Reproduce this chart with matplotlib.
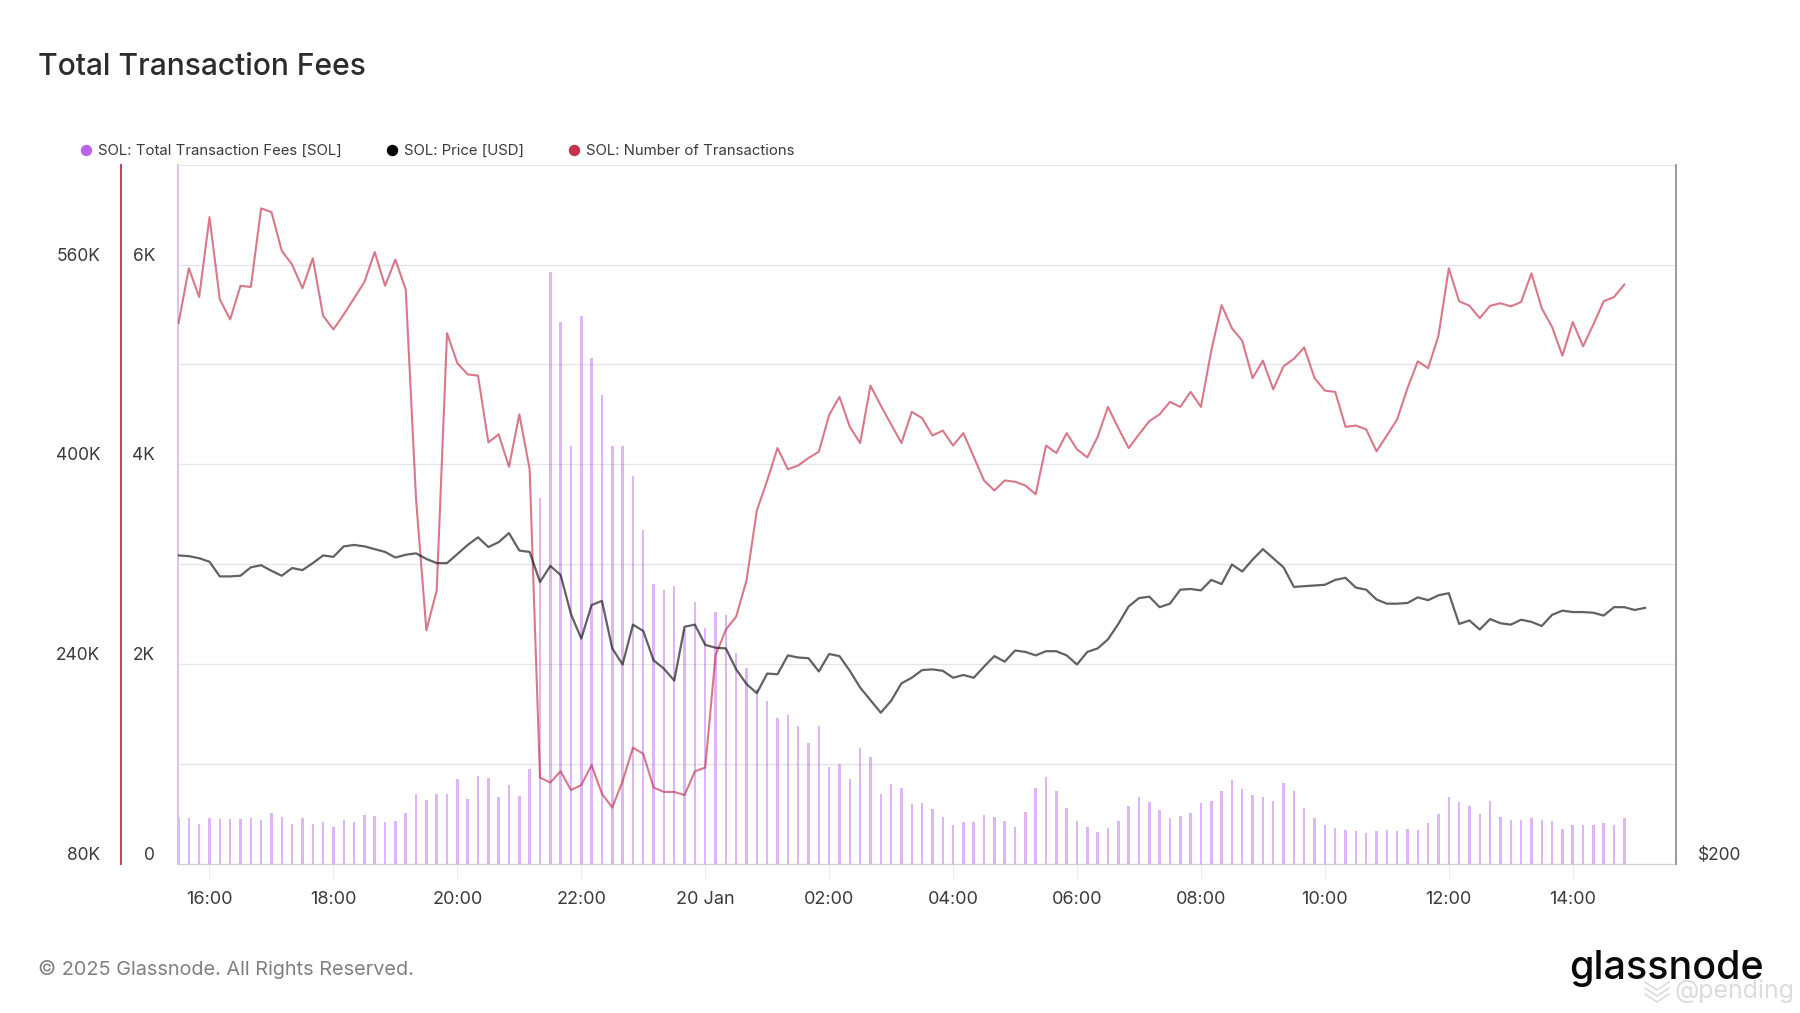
import pandas as pd
import matplotlib
matplotlib.use('Agg')
import matplotlib.pyplot as plt
from matplotlib.lines import Line2D

plt.rcParams['font.family'] = ['Inter', 'DejaVu Sans']

# total fees per 10 min, thousand SOL
fees = [
    .455, .46, .40, .46, .445, .445, .45, .46, .435, .51,
    .47, .40, .455, .40, .42, .365, .44, .42, .49, .48,
    .42, .43, .51, .70, .64, .70, .70, .85, .645, .88,
    .855, .67, .79, .68, .945, 3.66, 5.93, 5.42, 4.18, 5.48,
    5.06, 4.69, 4.18, 4.18, 3.88, 3.34, 2.80, 2.74, 2.78, 2.35,
    2.62, 2.36, 2.52, 2.49, 2.11, 1.96, 1.75, 1.63, 1.46, 1.49,
    1.38, 1.21, 1.38, .97, 1.0, .85, 1.16, 1.07, .70, .80,
    .76, .60, .61, .55, .47, .39, .42, .42, .49, .47,
    .43, .37, .52, .76, .87, .73, .56, .43, .37, .32,
    .36, .43, .58, .67, .62, .54, .46, .48, .51, .61,
    .63, .73, .84, .75, .69, .67, .63, .81, .73, .56,
    .46, .39, .36, .34, .33, .31, .33, .34, .33, .35,
    .34, .41, .50, .67, .62, .58, .50, .63, .47, .44,
    .44, .46, .44, .43, .35, .39, .39, .39, .41, .39,
    .46,
]

# number of transactions, thousands
transactions = [
    513, 557, 534, 598, 532, 516, 543, 542, 605, 602,
    571, 560, 541, 565, 519, 508, 520, 533, 546, 570,
    543, 564, 540, 372, 267, 299, 505, 481, 472, 471,
    417.5, 424, 398, 440, 396, 149, 145, 154, 139, 143,
    159, 136, 125, 146, 173, 168, 141, 137.5, 137.5, 135,
    154, 157, 247, 267.5, 278, 307, 363, 387, 413, 396,
    399, 405, 410, 439.5, 454, 430, 417, 463, 447, 432,
    417, 442, 437, 423, 427, 415, 425, 406, 387, 379,
    387, 386, 383, 376, 415, 409, 425, 412, 405.5, 422,
    446, 429, 413, 424, 434.5, 440, 450, 446, 458, 446,
    491, 527.5, 509, 499, 469, 483, 460, 478.5, 484.5, 493.6,
    469, 459, 458, 430, 431, 428, 410.4, 423, 436, 461,
    482.5, 477, 503, 557, 530.6, 527, 517, 527, 529, 526.5,
    530, 553, 525, 510, 487, 514, 494.5, 512, 530.6, 534,
    544,
]

# SOL price, USD
price = [
    244.1, 244.0, 243.7, 243.2, 241.1, 241.1, 241.2, 242.4, 242.7, 241.9,
    241.2, 242.3, 242.0, 243.0, 244.1, 243.9, 245.4, 245.6, 245.4, 245.0,
    244.6, 243.8, 244.2, 244.4, 243.6, 243.0, 243.0, 244.3, 245.6, 246.7,
    245.3, 246.0, 247.3, 244.8, 244.6, 240.3, 242.6, 241.3, 235.7, 232.2,
    237.0, 237.6, 230.8, 228.5, 234.2, 233.3, 229.1, 227.9, 226.2, 233.9,
    234.2, 231.3, 230.9, 230.8, 227.8, 225.7, 224.4, 227.2, 227.1, 229.8,
    229.5, 229.4, 227.5, 230.0, 229.7, 227.6, 225.2, 223.4, 221.6, 223.3,
    225.8, 226.6, 227.7, 227.8, 227.6, 226.6, 227.0, 226.6, 228.2, 229.7,
    228.9, 230.5, 230.3, 229.8, 230.4, 230.4, 229.8, 228.5, 230.3, 230.8,
    232.1, 234.3, 236.8, 238.0, 238.2, 236.7, 237.2, 239.2, 239.3, 239.1,
    240.6, 240.0, 242.8, 241.8, 243.5, 245.0, 243.7, 242.4, 239.6, 239.7,
    239.8, 239.9, 240.6, 240.9, 239.5, 239.2, 237.8, 237.2, 237.2, 237.3,
    238.1, 237.7, 238.4, 238.7, 234.3, 234.8, 233.5, 235.0, 234.4, 234.2,
    234.9, 234.6, 234.0, 235.6, 236.2, 236.0, 236.0, 235.9, 235.5, 236.7,
    236.7, 236.3, 236.6,
]

start = '2025-01-19 15:30'
fee_ticks = [0, 1, 2, 3, 4, 5, 6]
fee_labels = ['0', '', '2K', '', '4K', '', '6K']
tx_ticks = [80, 240, 400, 560]
tx_labels = ['80K', '240K', '400K', '560K']
x_ticks = pd.date_range('2025-01-19 16:00', '2025-01-20 14:00', freq='2h')
x_labels = ['16:00', '18:00', '20:00', '22:00', '20 Jan', '02:00', '04:00', '06:00',
            '08:00', '10:00', '12:00', '14:00']

PURPLE = '#b964ee'
RED = '#c8324e'
TEXT = '#3a3a3f'
W, H = 1800, 1013

times = pd.date_range(start, periods=len(price), freq='10min')

fig = plt.figure(figsize=(18, 10.13), dpi=100)
ax = fig.add_axes([178 / W, 1 - 863.7 / H, (1676 - 178) / W, (863.7 - 164.7) / H])
ax_tx = ax.twinx()
ax_price = ax.twinx()

ax.bar(times[:len(fees)], fees, width=2.4 / 1440, color=PURPLE, alpha=0.47, linewidth=0)
ax_tx.plot(times[:len(transactions)], transactions, color=RED, alpha=0.66, lw=1.5)
ax_price.plot(times, price, color='#111111', alpha=0.66, lw=1.6)

ax.set_xlim(pd.Timestamp(start) - pd.Timedelta(minutes=0.5), pd.Timestamp('2025-01-20 15:40'))
ax.set_ylim(0, 7)
ax_tx.set_ylim(80, 640)
ax_price.set_ylim(200, 300)

ax.set_xticks(x_ticks)
ax.set_xticklabels(x_labels)
ax.tick_params(axis='x', length=11, width=0.8, color='#ececec', pad=8.5, labelsize=13, labelcolor=TEXT)

ax.set_yticks(fee_ticks)
ax.set_yticklabels(fee_labels, va='bottom')
ax.tick_params(axis='y', length=0, pad=16.5, labelsize=12.5, labelcolor=TEXT)
ax.grid(axis='y', color='#e6e4ea', lw=0.9)
ax.set_axisbelow(True)

ax_tx.yaxis.set_ticks_position('left')
ax_tx.spines['left'].set_position(('outward', 41))
ax_tx.set_yticks(tx_ticks)
ax_tx.set_yticklabels(tx_labels, va='bottom')
ax_tx.tick_params(axis='y', length=0, pad=15, labelsize=12.5, labelcolor=TEXT,
                  left=False, right=False, labelleft=True, labelright=False)

ax_price.set_yticks([200])
ax_price.set_yticklabels(['$200'], va='bottom')
ax_price.tick_params(axis='y', length=0, pad=16, labelsize=12.5, labelcolor=TEXT)

for a in (ax, ax_tx, ax_price):
    for s in a.spines.values():
        s.set_visible(False)
ax.spines['left'].set_visible(True)
ax.spines['left'].set_color('#dcc0f0')
ax.spines['left'].set_linewidth(1.4)
ax.spines['bottom'].set_visible(True)
ax.spines['bottom'].set_color('#cfcfcf')
ax.spines['top'].set_visible(True)
ax.spines['top'].set_color('#e4e4e4')
ax_tx.spines['left'].set_visible(True)
ax_tx.spines['left'].set_color('#c5435c')
ax_tx.spines['left'].set_linewidth(1.4)
ax_price.spines['right'].set_visible(True)
ax_price.spines['right'].set_color('#8a8a8a')
ax_price.spines['right'].set_linewidth(1.2)

handles = [Line2D([], [], ls='none', marker='o', ms=8.2, mew=0, color=c)
           for c in (PURPLE, '#000000', RED)]
fig.legend(handles,
           ['SOL: Total Transaction Fees [SOL]', 'SOL: Price [USD]', 'SOL: Number of Transactions'],
           loc='center left', bbox_to_anchor=(79 / W, 1 - 151 / H), ncol=3, frameon=False,
           fontsize=10.75, labelcolor=TEXT, handlelength=0.9, handletextpad=0.35,
           columnspacing=2.92, borderpad=0, borderaxespad=0)

fig.text(38 / W, 1 - 67 / H, 'Total Transaction Fees', fontsize=21.6, fontweight='medium',
         color='#2c2c30', va='center')
fig.text(38 / W, 1 - 969 / H, '© 2025 Glassnode. All Rights Reserved.', fontsize=14.3,
         color='#808084', va='center')
fig.text(1764 / W, 1 - 968 / H, 'glassnode', fontsize=28.4, fontweight='medium', color='#0a0a0a',
         ha='right', va='center')

# watermark over the logo
fig.text(1675 / W, 1 - 991 / H, '@pending', fontsize=18, color='#dcdcdc', va='center')
for dy in (0, 6, 12):
    fig.add_artist(Line2D([(1645) / W, 1657 / W, 1669 / W],
                          [1 - (982 + dy) / H, 1 - (990 + dy) / H, 1 - (982 + dy) / H],
                          color='#d8d8d8', lw=1))

fig.savefig('out.png', dpi=100)
